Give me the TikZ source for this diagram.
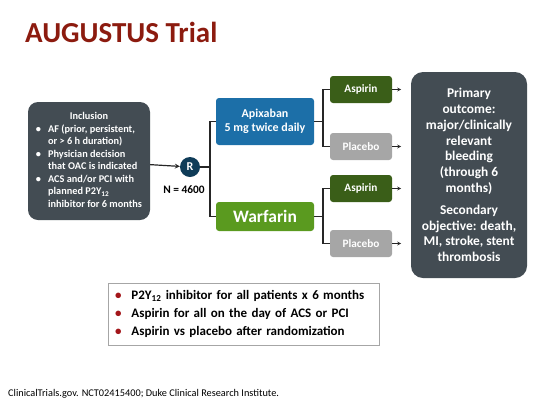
\documentclass[tikz,border=0pt]{standalone}
\usepackage{fontspec}
\setmainfont{Carlito}
\usetikzlibrary{arrows}
\definecolor{slate}{HTML}{434C53}
\definecolor{apixblue}{HTML}{1C6FA8}
\definecolor{warfgreen}{HTML}{5A9A1F}
\definecolor{aspgreen}{HTML}{3A5E18}
\definecolor{plcgray}{HTML}{A6A6A6}
\definecolor{rnavy}{HTML}{0F3C58}
\definecolor{titlered}{HTML}{8C1B0F}
\definecolor{bulletred}{HTML}{A3161A}
\definecolor{linegray}{HTML}{262626}
\begin{document}
\begin{tikzpicture}[
    x=1pt, y=-1pt,
    darkbox/.style={rectangle, rounded corners=10pt, fill=slate, text=white, inner sep=0pt, font=\bfseries},
    armbox/.style={rectangle, rounded corners=3pt, text=white, inner sep=0pt, minimum width=98pt, align=center, font=\bfseries},
    subbox/.style={rectangle, rounded corners=3pt, text=white, inner sep=0pt, minimum width=62pt, minimum height=27pt, font=\bfseries\fontsize{11.3}{13}\selectfont},
    link/.style={line width=1.2pt, linegray},
    arrow/.style={->, >=stealth, line width=1.2pt, linegray},
]
\useasboundingbox (0,0) rectangle (540,405);

\node[anchor=base west, text=titlered, font=\bfseries\fontsize{29}{32}\selectfont, inner sep=0pt] (title) at (25,42) {AUGUSTUS Trial};

\node[darkbox, minimum width=122pt, minimum height=118pt, font=\bfseries\fontsize{10.3}{12.5}\selectfont] (incl) at (89,161) {%
  \begin{tabular}{@{}l@{\hspace{7pt}}l@{}}
  \multicolumn{2}{c}{Inclusion}\\
  \textbullet & AF (prior, persistent,\\
              & or > 6 h duration)\\
  \textbullet & Physician decision\\
              & that OAC is indicated\\
  \textbullet & ACS and/or PCI with\\
              & planned P2Y\textsubscript{12}\\
              & inhibitor for 6 months
  \end{tabular}};

\node[circle, fill=rnavy, text=white, minimum size=20pt, inner sep=0pt, font=\bfseries\fontsize{12}{12}\selectfont] (R) at (190,167) {R};
\node[font=\bfseries\fontsize{11.4}{12}\selectfont] (N) at (184,190) {N = 4600};

\node[armbox, fill=apixblue, minimum height=47pt, font=\bfseries\fontsize{12}{14}\selectfont] (apix) at (265,121.5) {Apixaban\\5 mg twice daily};
\node[armbox, fill=warfgreen, minimum height=29pt, font=\bfseries\fontsize{17.5}{18}\selectfont] (warf) at (265,216.5) {Warfarin};

\node[subbox, fill=aspgreen] (asp1) at (361,89.5) {Aspirin};
\node[subbox, fill=plcgray] (plc1) at (361,146.5) {Placebo};
\node[subbox, fill=aspgreen] (asp2) at (361,188.5) {Aspirin};
\node[subbox, fill=plcgray] (plc2) at (361,243.5) {Placebo};

\node[darkbox, rounded corners=12pt, minimum width=116pt, minimum height=206pt, align=center, font=\bfseries\fontsize{13.4}{15.8}\selectfont] (outc) at (469,175) {Primary\\outcome:\\major/clinically\\relevant\\bleeding\\(through 6\\months)\\[6pt]Secondary\\objective: death,\\MI, stroke, stent\\thrombosis};

\node[rectangle, draw=gray!70, line width=0.6pt, fill=white, minimum width=271pt, minimum height=62pt, inner xsep=7pt, text width=257pt, align=left, font=\bfseries\fontsize{13}{18}\selectfont] (notes) at (243.5,314) {%
  \textcolor{bulletred}{\textbullet}\hspace{10pt}P2Y\textsubscript{12} inhibitor for all patients x 6 months\\
  \textcolor{bulletred}{\textbullet}\hspace{10pt}Aspirin for all on the day of ACS or PCI\\
  \textcolor{bulletred}{\textbullet}\hspace{10pt}Aspirin vs placebo after randomization};

\node[anchor=base west, inner sep=0pt, font=\fontsize{10.3}{12}\selectfont] (src) at (8,396) {ClinicalTrials.gov. NCT02415400; Duke Clinical Research Institute.};

% randomization
\coordinate (rsplit) at (210,167);
\coordinate (asplit) at (323,121.5);
\coordinate (wsplit) at (323,216.5);
\draw[arrow] (incl) -- (R);
\draw[link] (R) -- (rsplit);
\draw[link] (apix.west) -| (rsplit);
\draw[link] (warf.west) -| (rsplit);
\draw[link] (apix) -- (asplit);
\draw[link] (asp1.west) -| (asplit);
\draw[link] (plc1.west) -| (asplit);
\draw[link] (warf) -- (wsplit);
\draw[link] (asp2.west) -| (wsplit);
\draw[link] (plc2.west) -| (wsplit);
\foreach \n in {asp1,plc1,asp2,plc2}
  \draw[arrow, line width=0.8pt] (\n.east) -- ++(9,0);
\end{tikzpicture}
\end{document}
